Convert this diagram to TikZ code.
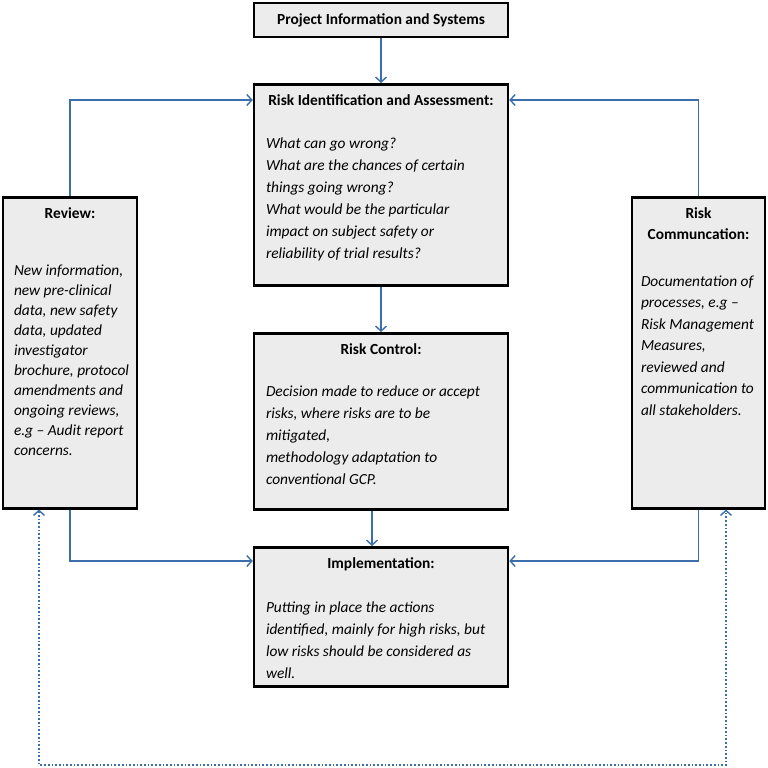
\documentclass[tikz,border=0pt]{standalone}
\usepackage{fontspec}
\setmainfont{Carlito}
\usetikzlibrary{positioning,calc,arrows.meta}
\definecolor{flowblue}{RGB}{59,110,170}
\definecolor{paper}{RGB}{236,236,236}
\tikzset{stage/.style={draw, line width=2.5pt, fill=paper, inner xsep=12pt, inner ysep=10pt,
    font=\fontsize{15.4pt}{22pt}\selectfont},
% side boxes have a tighter line spacing
side/.style={font=\fontsize{15.4pt}{20pt}\selectfont},
flow/.style={draw=flowblue, line width=1.4pt, -{Straight Barb[length=5pt,width=11pt,line width=1.4pt]}},
feedback/.style={draw=flowblue, line width=1.7pt, dotted,
    {Straight Barb[length=5pt,width=11pt,line width=1.4pt]}-{Straight Barb[length=5pt,width=11pt,line width=1.4pt]}}
}
% width, height, title, gap, body
\newcommand{\stagetext}[5]{\parbox[t][#2][t]{#1}{\centering\bfseries #3\par\vspace{#4}\raggedright\mdseries\itshape #5}}

\begin{document}
\begin{tikzpicture}[x=1pt,y=-1pt]
    \useasboundingbox (0,0) rectangle (768,768);
    \node[stage, minimum width=254pt, minimum height=34pt, inner sep=0pt] (proj) at (381,20) {\bfseries Project Information and Systems};
    \node[stage, anchor=north] (riskid) at (381,83) {\stagetext{230pt}{181pt}{Risk Identification and Assessment:}{21pt}{What can go wrong?\\ What are the chances of certain\\ things going wrong?\\ What would be the particular\\ impact on subject safety or\\ reliability of trial results?}};
    \node[stage, anchor=north] (control) at (381,332) {\stagetext{230pt}{156pt}{Risk Control:}{20pt}{Decision made to reduce or accept\\ risks, where risks are to be\\ mitigated,\\ methodology adaptation to\\ conventional GCP.}};
    \node[stage, anchor=north] (impl) at (381,546) {\stagetext{230pt}{119pt}{Implementation:}{22pt}{Putting in place the actions\\ identified, mainly for high risks, but\\ low risks should be considered as\\ well.}};
    \node[stage, side, anchor=north, inner xsep=8pt] (review) at (70,196) {\stagetext{118pt}{291pt}{Review:}{37pt}{\leftskip=3pt New information,\\ new pre-clinical\\ data, new safety\\ data, updated\\ investigator\\ \mbox{brochure, protocol}\\ amendments and\\ ongoing reviews,\\ e.g -- Audit report\\ concerns.}};
    \node[stage, anchor=north, inner xsep=9pt, font=\fontsize{15.4pt}{21.5pt}\selectfont] (comm) at (698.5,196) {\stagetext{115pt}{291pt}{Risk\\ Communcation:}{25pt}{Documentation of\\ processes, e.g --\\ Risk Management\\ Measures,\\ reviewed and\\ communication to\\ all stakeholders.}};
    % main flow
    \draw[flow] (proj) -- (riskid);
    \draw[flow] (review.north) |- ([yshift=-17pt]riskid.north west);
    \draw[flow] (comm.north) |- ([yshift=-17pt]riskid.north east);
    \draw[flow] (riskid) -- (control);
    \draw[flow] ([xshift=-9pt]control.south) -- ([xshift=-9pt]impl.north);
    \draw[flow] (review.south) |- ([yshift=-15pt]impl.north west);
    \draw[flow] (comm.south) |- ([yshift=-15pt]impl.north east);
    % feedback loop along the bottom
    \coordinate (floor) at (381,765);
    \draw[feedback] ([xshift=-31pt]review.south) |- (floor) -| ([xshift=27.5pt]comm.south);
\end{tikzpicture}
\end{document}
